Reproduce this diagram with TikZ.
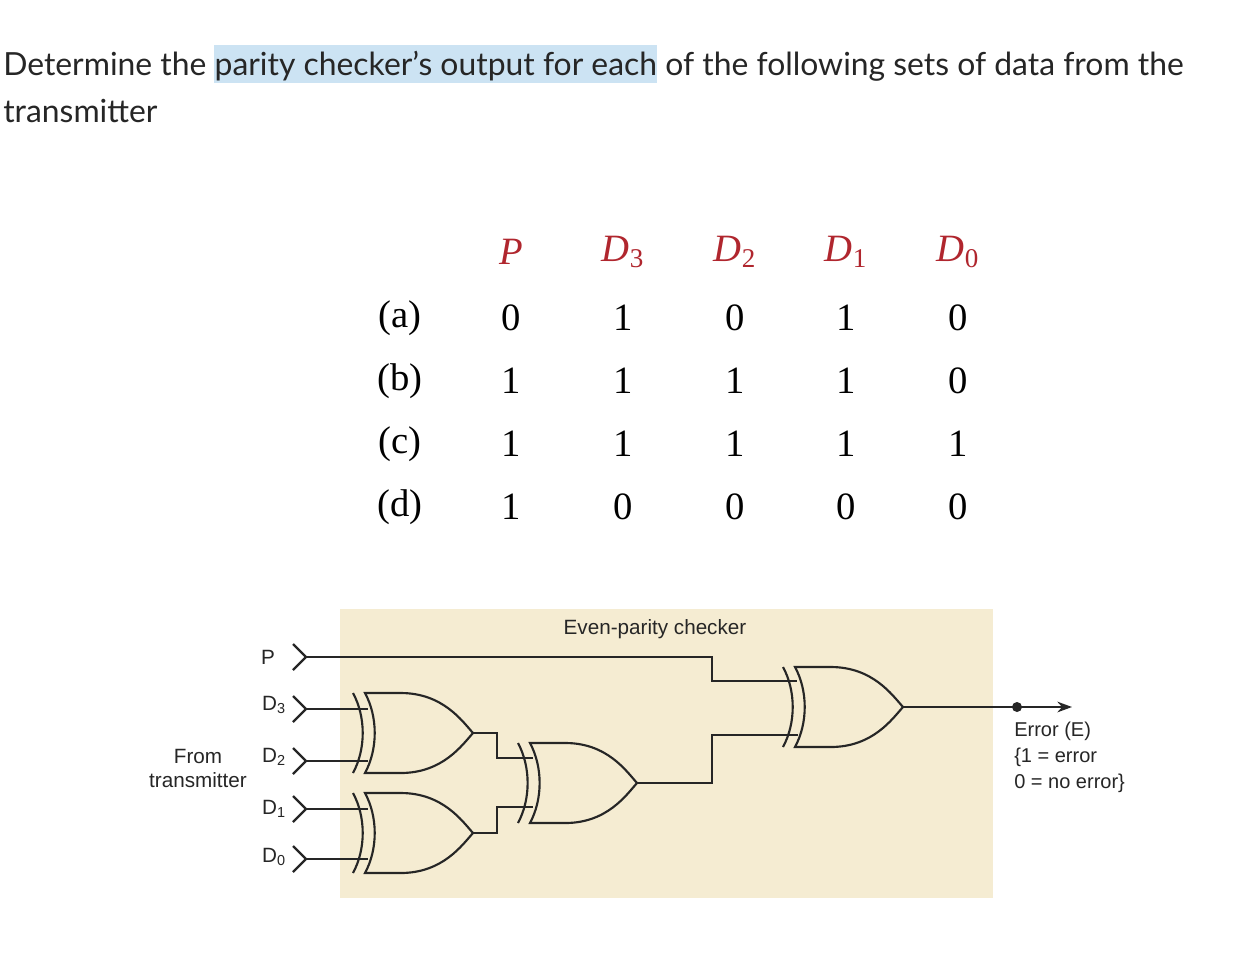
\documentclass[tikz,border=0pt]{standalone}
\usepackage{fontspec}
\setmainfont{Liberation Serif}
\newfontfamily\lato{Lato}
\newfontfamily\arial{Liberation Sans}
\usetikzlibrary{arrows.meta}
\definecolor{bg}{HTML}{F5ECD2}
\definecolor{hl}{HTML}{CCE3F3}
\definecolor{hdr}{HTML}{B0262E}
\tikzset{wire/.style={line width=2pt,draw=black!85},
 gateline/.style={line width=1.6pt,draw=black!85},
 lbl/.style={font=\arial\fontsize{15.5}{18}\selectfont,text=black!85,inner sep=0},
 tab/.style={font=\fontsize{29}{32}\selectfont,inner sep=0},
 th/.style={font=\itshape\fontsize{29}{32}\selectfont,text=hdr,inner sep=0}}
% xor gate: #1 name, #2 x0, #3 ytop, #4 h, #5 w
\newcommand{\xorg}[5]{%
 \pgfmathsetmacro\xa{#2}\pgfmathsetmacro\yt{#3}\pgfmathsetmacro\yb{#3+#4}\pgfmathsetmacro\ym{#3+#4/2}%
 \pgfmathsetmacro\xw{#2+#5}\pgfmathsetmacro\xb{#2+0.12*#5}\pgfmathsetmacro\xs{#2+0.33*#5}%
 \pgfmathsetmacro\xc{#2+0.72*#5}\pgfmathsetmacro\xd{#2+0.9*#5}%
 \pgfmathsetmacro\xe{#2-12}\pgfmathsetmacro\xf{#2-12+0.12*#5}%
 \draw[gateline] (\xa,\yt) .. controls (\xb,\yt+0.3*#4) and (\xb,\yb-0.3*#4) .. (\xa,\yb)
   -- (\xs,\yb) .. controls (\xc,\yb) and (\xd,\ym+0.15*#4) .. (\xw,\ym)
   .. controls (\xd,\ym-0.15*#4) and (\xc,\yt) .. (\xs,\yt) -- cycle;
 \draw[gateline] (\xe,\yt) .. controls (\xf,\yt+0.3*#4) and (\xf,\yb-0.3*#4) .. (\xe,\yb);
 \coordinate (#1o) at (\xw,\ym);}
\newcommand{\chev}[3]{\draw[gateline,line width=1.8pt] (#2-8,#3-13) -- (#2+5,#3) -- (#2-8,#3+13); \coordinate (#1) at (#2+5,#3);}
\begin{document}
\begin{tikzpicture}[x=0.75pt,y=-0.75pt]
\useasboundingbox (0,0) rectangle (1242,954);
\fill[white] (0,0) rectangle (1242,954);
\fill[hl] (214,45) rectangle (657,83);
\node[anchor=base west,inner sep=0,font=\lato\fontsize{23.9}{28}\selectfont,text=black!85] (t1) at (3,75) {Determine the parity checker’s output for each of the following sets of data from the};
\node[anchor=base west,inner sep=0,font=\lato\fontsize{23.9}{28}\selectfont,text=black!85] (t2) at (3,122) {transmitter};
% table
\foreach \n/\x/\s in {p/511/P,d3/623/D\textsubscript{\upshape 3},d2/735/D\textsubscript{\upshape 2},d1/846/D\textsubscript{\upshape 1},d0/958/D\textsubscript{\upshape 0}}
  \node[th] (h\n) at (\x,252) {\s};
\foreach \r/\y/\a/\b/\c/\d/\e in {a/318/0/1/0/1/0,b/381/1/1/1/1/0,c/444/1/1/1/1/1,d/507/1/0/0/0/0}{
  \node[tab] (l\r) at (400,\y) {(\r)};
  \node[tab] (r\r1) at (511,\y) {\a};
  \node[tab] (r\r2) at (623,\y) {\b};
  \node[tab] (r\r3) at (735,\y) {\c};
  \node[tab] (r\r4) at (846,\y) {\d};
  \node[tab] (r\r5) at (958,\y) {\e};}
% circuit
\fill[bg] (340,609) rectangle (993,898);
\node[lbl] (title) at (655,629) {Even-parity checker};
\node[lbl,align=center] (from) at (198,768) {From\\transmitter};
\node[lbl] (lp) at (268,657) {P};
\node[lbl] (l3) at (274,705) {D\textsubscript{3}};
\node[lbl] (l2) at (274,757) {D\textsubscript{2}};
\node[lbl] (l1) at (274,809) {D\textsubscript{1}};
\node[lbl] (l0) at (274,857) {D\textsubscript{0}};
\chev{ip}{301}{657}\chev{i3}{301}{709}\chev{i2}{301}{761}\chev{i1}{301}{809}\chev{i0}{301}{859}
\xorg{g1}{365}{693}{80}{108}
\xorg{g2}{365}{793}{80}{108}
\xorg{g3}{530}{743}{80}{107}
\xorg{g4}{795}{667}{80}{108}
\draw[wire] (ip) -- (712,657) -- (712,681) -- (797,681);
\draw[wire] (i3) -- (368,709);
\draw[wire] (i2) -- (368,761);
\draw[wire] (i1) -- (368,809);
\draw[wire] (i0) -- (368,859);
\draw[wire] (g1o) -- (497,733) -- (497,758) -- (533,758);
\draw[wire] (g2o) -- (497,833) -- (497,807) -- (533,807);
\draw[wire] (g3o) -- (712,783) -- (712,735) -- (798,735);
\coordinate (dot) at (1017,707);
\coordinate (arr) at (1072,707);
\draw[wire,line width=1.5pt] (g4o) -- (dot);
\fill[black!85] (dot) circle (5);
\draw[wire,line width=1.5pt,-{Stealth[length=11pt,width=8pt]}] (dot) -- (arr);
\node[lbl,anchor=north west,align=left,font=\arial\fontsize{15}{19.5}\selectfont] (err) at (1014,722) {Error (E)\\\{1 = error\\0 = no error\}};
\end{tikzpicture}
\end{document}
